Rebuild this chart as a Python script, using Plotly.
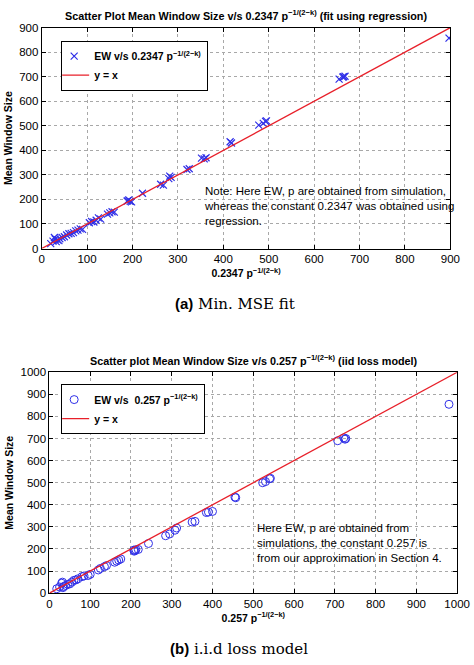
import plotly.graph_objects as go

# Panel (a): 0.2347 p^-1/(2-k) vs mean window size
a_x = [897, 655, 665, 668, 663, 478, 488, 493, 495, 415, 418, 352, 362, 358, 320, 325,
       280, 282, 285, 262, 268, 222, 190, 192, 195, 198, 188, 150, 155, 160, 145,
       125, 130, 120, 105, 110, 115, 85, 90, 80, 75, 65, 60, 70, 55, 45, 50, 40, 35, 38,
       28, 30, 25, 20, 32]
a_y = [857, 690, 700, 702, 698, 503, 510, 518, 520, 435, 430, 368, 370, 365, 322, 325,
       285, 295, 290, 262, 258, 225, 195, 198, 192, 190, 193, 145, 150, 148, 140,
       125, 120, 115, 105, 110, 108, 80, 78, 75, 72, 62, 60, 65, 55, 45, 48, 40, 35, 32,
       45, 38, 30, 20, 28]

# Panel (b): 0.257 p^-1/(2-k) vs mean window size
b_x = [980, 707, 722, 725, 727, 523, 530, 540, 542, 455, 457, 385, 400, 390, 350, 357,
       285, 295, 308, 312, 243, 207, 210, 212, 218, 208, 165, 170, 175, 160,
       140, 135, 125, 120, 100, 95, 85, 80, 70, 65, 60, 55, 45, 50, 40, 35,
       30, 32, 25, 18, 33]
b_y = [855, 690, 703, 697, 700, 500, 505, 518, 520, 435, 432, 365, 370, 367, 322, 325,
       260, 268, 285, 295, 225, 195, 193, 197, 198, 190, 145, 150, 155, 140,
       125, 120, 112, 105, 85, 80, 78, 75, 65, 60, 58, 50, 40, 42, 35, 30,
       45, 50, 28, 20, 25]

line_a = [0, 900]
line_b = [0, 1000]
ticks_a = [0, 100, 200, 300, 400, 500, 600, 700, 800, 900]
ticks_b = [0, 100, 200, 300, 400, 500, 600, 700, 800, 900, 1000]

BLUE = "#3030e8"
RED = "#e8202a"
FONT = "Liberation Sans, Arial, sans-serif"

fig = go.Figure()
fig.add_trace(go.Scatter(x=a_x, y=a_y, mode="markers", name="<b>EW v/s 0.2347 p<sup>\u22121/(2\u2212k)</sup></b>",
                         marker=dict(symbol="x-thin", size=7, color=BLUE, line=dict(color=BLUE, width=1.2)),
                         xaxis="x", yaxis="y", legend="legend"))
fig.add_trace(go.Scatter(x=line_a, y=line_a, mode="lines", name="<b>y = x</b>",
                         line=dict(color=RED, width=1.3), xaxis="x", yaxis="y", legend="legend"))
fig.add_trace(go.Scatter(x=b_x, y=b_y, mode="markers", name="<b>EW v/s  0.257 p<sup>\u22121/(2\u2212k)</sup></b>",
                         marker=dict(symbol="circle-open", size=8, color=BLUE, line=dict(color=BLUE, width=1)),
                         xaxis="x2", yaxis="y2", legend="legend2"))
fig.add_trace(go.Scatter(x=line_b, y=line_b, mode="lines", name="<b>y = x</b>",
                         line=dict(color=RED, width=1.3), xaxis="x2", yaxis="y2", legend="legend2"))

ax_common = dict(showline=True, linecolor="black", linewidth=1, mirror="ticks",
                 ticks="inside", ticklen=4, tickcolor="black",
                 showgrid=True, gridcolor="#a8a8a8", griddash="dot", gridwidth=1,
                 zeroline=False, tickfont=dict(family=FONT, size=11.5, color="black"))

fig.update_layout(
    width=474, height=665, margin=dict(l=0, r=0, t=0, b=0),
    paper_bgcolor="white", plot_bgcolor="white", showlegend=True,
    font=dict(family=FONT, color="black"),
    xaxis=dict(domain=[0.0844, 0.9768], range=[0, 900], tickvals=ticks_a, anchor="y",
               title=dict(text="<b>0.2347 p<sup>\u22121/(2\u2212k)</sup></b>", font=dict(size=10.5), standoff=5), **ax_common),
    yaxis=dict(domain=[0.6286, 0.9669], range=[0, 900], tickvals=ticks_a, anchor="x",
               title=dict(text="<b>Mean Window Size</b>", font=dict(size=10.5), standoff=4), **ax_common),
    xaxis2=dict(domain=[0.1013, 0.9916], range=[0, 1000], tickvals=ticks_b, anchor="y2",
                title=dict(text="<b>0.257 p<sup>\u22121/(2\u2212k)</sup></b>", font=dict(size=10.5), standoff=5), **ax_common),
    yaxis2=dict(domain=[0.1008, 0.4391], range=[0, 1000], tickvals=ticks_b, anchor="x2",
                title=dict(text="<b>Mean Window Size</b>", font=dict(size=10.5), standoff=4), **ax_common),
    legend=dict(x=0.127, y=0.947, xanchor="left", yanchor="top", bgcolor="white",
                bordercolor="black", borderwidth=1, font=dict(size=10.5, family=FONT),
                itemwidth=30, tracegroupgap=0, indentation=-8),
    legend2=dict(x=0.127, y=0.421, xanchor="left", yanchor="top", bgcolor="white",
                 bordercolor="black", borderwidth=1, font=dict(size=10.5, family=FONT),
                 itemwidth=30, tracegroupgap=0, indentation=-8),
)

ann = []
ann.append(dict(text="<b>Scatter Plot Mean Window Size v/s 0.2347 p<sup>\u22121/(2\u2212k)</sup> (fit using regression)</b>",
                x=252 / 474, y=1 - 9 / 665, xref="paper", yref="paper", showarrow=False,
                font=dict(size=10.8, family=FONT), xanchor="center", yanchor="middle"))
ann.append(dict(text="<b>Scatter plot Mean Window Size v/s 0.257 p<sup>\u22121/(2\u2212k)</sup> (iid loss model)</b>",
                x=260 / 474, y=1 - 360 / 665, xref="paper", yref="paper", showarrow=False,
                font=dict(size=10.8, family=FONT), xanchor="center", yanchor="middle"))
ann.append(dict(text="Note: Here EW, p are obtained from simulation,<br>whereas the constant 0.2347 was obtained using<br>regression.",
                x=206 / 474, y=1 - 180 / 665, xref="paper", yref="paper", showarrow=False, align="left",
                font=dict(size=11.5, family=FONT), xanchor="left", yanchor="top"))
ann.append(dict(text="Here EW, p are obtained from<br>simulations, the constant 0.257 is<br>from our approximation in Section 4.",
                x=261 / 474, y=1 - 523 / 665, xref="paper", yref="paper", showarrow=False, align="left",
                font=dict(size=11.5, family=FONT), xanchor="left", yanchor="top"))
ann.append(dict(text="<b><span style='font-family:Liberation Sans'>(a)</span></b> Min. MSE fit",
                x=240 / 474, y=1 - 303 / 665, xref="paper", yref="paper", showarrow=False,
                font=dict(size=15, family="DejaVu Serif, Liberation Serif, serif"), xanchor="center", yanchor="middle"))
ann.append(dict(text="<b><span style='font-family:Liberation Sans'>(b)</span></b> i.i.d loss model",
                x=244 / 474, y=1 - 655 / 665, xref="paper", yref="paper", showarrow=False,
                font=dict(size=15, family="DejaVu Serif, Liberation Serif, serif"), xanchor="center", yanchor="middle"))
fig.update_layout(annotations=ann)

fig.write_html("out.html")
